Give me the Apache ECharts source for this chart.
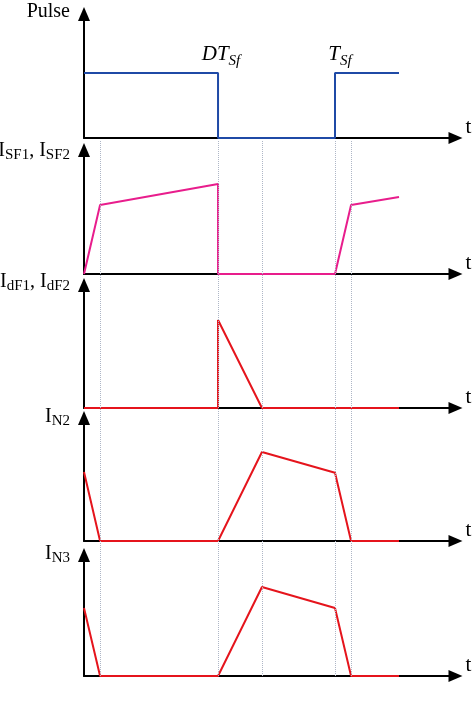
<!DOCTYPE html>
<html><head><meta charset="utf-8">
<script src="https://cdn.jsdelivr.net/npm/echarts@6/dist/echarts.min.js"></script>
<style>html,body{margin:0;padding:0;background:#fff}#c{width:474px;height:710px}</style>
</head><body><div id="c"></div>
<script>
// ---- data (time in units where the switching period T = 10) ----
const guideT   = [0.64, 5.34, 7.09, 10, 10.64];

const pulseT   = [0, 5.34, 5.34, 10, 10, 12.55];
const pulseY   = [5.24, 5.24, 0, 0, 5.24, 5.24];

const isfT     = [0, 0.64, 5.34, 5.34, 10, 10.64, 12.55];
const isfY     = [0, 5.56, 7.26, 0, 0, 5.56, 6.21];

const idfT     = [0, 5.34, 5.34, 7.09, 12.55];
const idfY     = [0, 0, 7.15, 0, 0];

const in2T     = [0, 0.64, 5.34, 7.09, 10, 10.64, 12.55];
const in2Y     = [5.61, 0, 0, 7.24, 5.55, 0, 0];

const in3T     = [0, 0.64, 5.34, 7.09, 10, 10.64, 12.55];
const in3Y     = [5.62, 0, 0, 7.36, 5.62, 0, 0];

const yNames = ['Pulse', '{m|I}{s|SF1}{m|, I}{s|SF2}', '{m|I}{s|dF1}{m|, I}{s|dF2}', '{m|I}{s|N2}', '{m|I}{s|N3}'];
const xName = 't';
const edgeLabels = ['{i|DT}{si|Sf}', '{i|T}{si|Sf}'];

// ---- layout ----
const FONT = 'Liberation Serif';
const X_MAX = 14.8;
const LEFT = 84, RIGHT = 474 - 84 - X_MAX * 25.1;
const panels = [
  {top: 14,  height: 124, gap: 2},
  {top: 150, height: 124, gap: 0},
  {top: 285, height: 123, gap: 4},
  {top: 418, height: 123, gap: 2},
  {top: 555, height: 121, gap: 2}
];

const zip = (a, b) => a.map((v, i) => [v, b[i]]);
const richStyle = {
  m: {fontFamily: FONT, fontSize: 20, color: '#000', verticalAlign: 'bottom', lineHeight: 22},
  s: {fontFamily: FONT, fontSize: 15, color: '#000', verticalAlign: 'bottom', lineHeight: 22, padding: [0, 0, -2, 0]}
};
const axisLine = {show: true, onZero: false, lineStyle: {color: '#000', width: 2}, symbol: ['none', 'triangle'], symbolSize: [12, 14]};

const grids = panels.map(p => ({left: LEFT, right: RIGHT, top: p.top, height: p.height, outerBoundsMode: 'none', containLabel: false}));
grids.push({left: LEFT, right: RIGHT, top: 141, height: 535, outerBoundsMode: 'none', containLabel: false});

const xAxes = panels.map((p, i) => ({
  type: 'value', gridIndex: i, min: 0, max: X_MAX,
  axisLine, axisTick: {show: false}, axisLabel: {show: false}, splitLine: {show: false},
  name: xName, nameLocation: 'end', nameGap: 10,
  nameTextStyle: {fontFamily: FONT, fontSize: 21, color: '#000', verticalAlign: 'bottom'}
}));
xAxes.push({type: 'value', gridIndex: 5, min: 0, max: X_MAX, show: false});

const yAxes = panels.map((p, i) => ({
  type: 'value', gridIndex: i, min: 0, max: 10,
  axisLine, axisTick: {show: false}, axisLabel: {show: false}, splitLine: {show: false},
  name: yNames[i], nameLocation: 'end', nameGap: p.gap,
  nameTextStyle: {fontFamily: FONT, fontSize: 20, color: '#000', align: 'right', verticalAlign: 'middle', padding: [0, 14, 0, 0], rich: richStyle}
}));
yAxes.push({type: 'value', gridIndex: 5, min: 0, max: 1, show: false});

const lineSeries = (data, idx, color, extra) => Object.assign({
  type: 'line', xAxisIndex: idx, yAxisIndex: idx, data, showSymbol: false, symbol: 'none',
  lineStyle: {color, width: 2}, itemStyle: {color}, silent: true, z: 3
}, extra || {});

const edgeRich = {
  i: {fontFamily: FONT, fontSize: 21, fontStyle: 'italic', color: '#000', verticalAlign: 'bottom', lineHeight: 24},
  si: {fontFamily: FONT, fontSize: 15, fontStyle: 'italic', color: '#000', verticalAlign: 'bottom', lineHeight: 24, padding: [0, 0, -4, 0]}
};

const option = {
  animation: false,
  backgroundColor: '#fff',
  grid: grids,
  xAxis: xAxes,
  yAxis: yAxes,
  series: [
    {
      type: 'line', xAxisIndex: 5, yAxisIndex: 5, data: [], silent: true, z: -1,
      markLine: {
        silent: true, symbol: ['none', 'none'], label: {show: false}, animation: false,
        lineStyle: {color: '#aeb6c6', type: 'dotted', width: 1},
        data: guideT.map(t => ({xAxis: t}))
      }
    },
    lineSeries(zip(pulseT, pulseY), 0, '#1f4aa6', {
      markPoint: {
        symbol: 'circle', symbolSize: 1, itemStyle: {color: 'rgba(0,0,0,0)'}, silent: true,
        label: {show: true, position: 'inside', rich: edgeRich},
        data: [
          {coord: [pulseT[1], pulseY[0]], label: {formatter: edgeLabels[0], offset: [3, -20]}},
          {coord: [pulseT[3], pulseY[4]], label: {formatter: edgeLabels[1], offset: [5, -20]}}
        ]
      }
    }),
    lineSeries(zip(isfT, isfY), 1, '#e81d8c'),
    lineSeries(zip(idfT, idfY), 2, '#e5141c'),
    lineSeries(zip(in2T, in2Y), 3, '#e5141c'),
    lineSeries(zip(in3T, in3Y), 4, '#e5141c')
  ]
};

const chart = echarts.init(document.getElementById('c'), null, {renderer: 'canvas'});
chart.setOption(option);
</script>
</body></html>
